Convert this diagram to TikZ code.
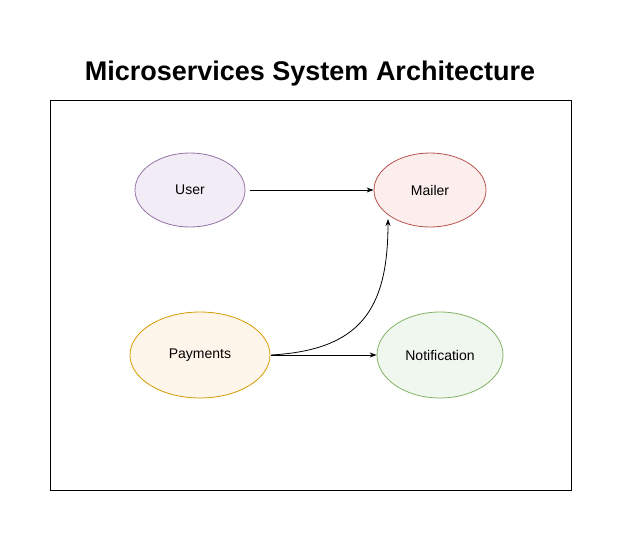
\documentclass[tikz,border=0pt]{standalone}
\usepackage{fontspec}
\setmainfont{Liberation Sans}
\usetikzlibrary{shapes.geometric,arrows.meta}
\begin{document}
\begin{tikzpicture}[x=1pt,y=-1pt,
  svc/.style={ellipse,draw,line width=0.8pt,font=\fontsize{14}{16}\selectfont,inner sep=0pt},
  conn/.style={-{Stealth[length=7pt,width=5pt]},line width=0.8pt,black}]
\useasboundingbox (0,0) rectangle (621,541);
\node[font=\bfseries\fontsize{27}{30}\selectfont] (title) at (310,74) {Microservices System Architecture};
\draw[line width=0.9pt] (50,100) rectangle (571,490);
\node[svc,draw={rgb,255:red,150;green,115;blue,166},fill={rgb,255:red,242;green,236;blue,246},minimum width=110pt,minimum height=74pt] (user) at (190,190) {User};
\node[svc,draw={rgb,255:red,184;green,84;blue,80},fill={rgb,255:red,252;green,238;blue,237},minimum width=112pt,minimum height=74pt] (mailer) at (430,190) {Mailer};
\node[svc,draw={rgb,255:red,215;green,155;blue,0},fill={rgb,255:red,255;green,246;blue,235},minimum width=140pt,minimum height=86pt] (pay) at (200,355) {Payments};
\node[svc,draw={rgb,255:red,130;green,179;blue,102},fill={rgb,255:red,240;green,247;blue,238},minimum width=126pt,minimum height=86pt] (notif) at (440,355) {Notification};
\coordinate (ua) at (250,190);
\coordinate (pa) at (271,355);
\draw[conn] (ua) -- (mailer.west);
\draw[conn] (pa) -- (notif.west);
\draw[conn] (pa) .. controls (360,350) and (388,310) .. (388,219);
\end{tikzpicture}
\end{document}
